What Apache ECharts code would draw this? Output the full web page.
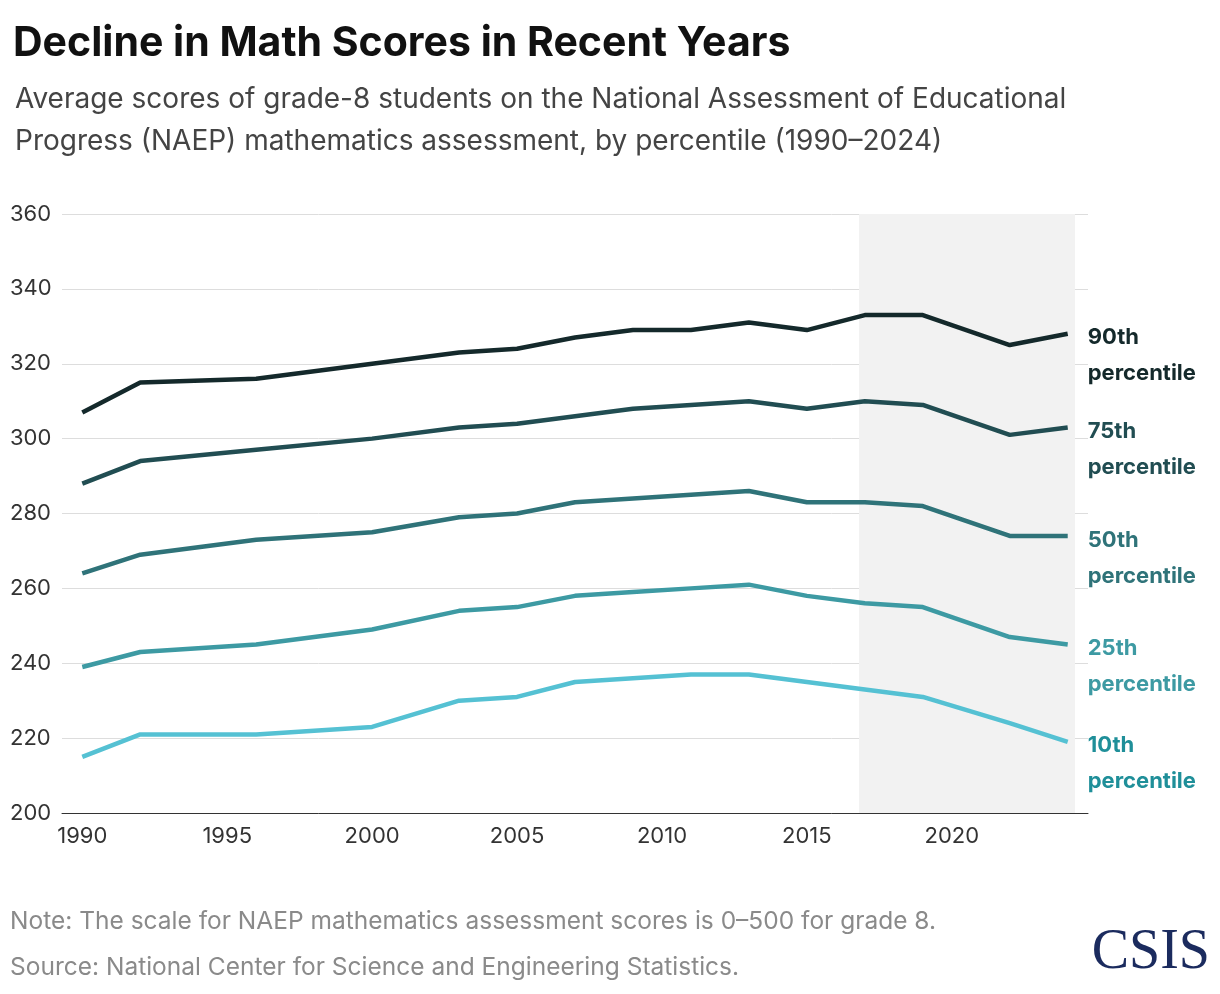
<!DOCTYPE html><html><head><meta charset="utf-8"><script src="https://cdn.jsdelivr.net/npm/echarts@6/dist/echarts.min.js"></script>
<style>body{margin:0}#c{width:1220px;height:994px}</style></head><body><div id="c"></div><script>
const years=[1990,1992,1996,2000,2003,2005,2007,2009,2011,2013,2015,2017,2019,2022,2024];
const p90=[307,315,316,320,323,324,327,329,329,331,329,333,333,325,328];
const p75=[288,294,297,300,303,304,306,308,309,310,308,310,309,301,303];
const p50=[264,269,273,275,279,280,283,284,285,286,283,283,282,274,274];
const p25=[239,243,245,249,254,255,258,259,260,261,258,256,255,247,245];
const p10=[215,221,221,223,230,231,235,236,237,237,235,233,231,224,219];
const xTicks=[1990,1995,2000,2005,2010,2015,2020];
const names=['90th','75th','50th','25th','10th'];
const colors=['#14292b','#214d52','#2f7379','#3d9aa3','#55c1d3'];
const labelColors=['#14292b','#214d52','#2f7379','#3d9aa3','#1f8f99'];
const data=[p90,p75,p50,p25,p10];
const F='Inter, "Noto Sans", sans-serif';
const series=data.map((d,i)=>({name:names[i],type:'line',symbol:'none',data:years.map((y,j)=>[y,d[j]]),
 lineStyle:{width:4.5,color:colors[i]},itemStyle:{color:colors[i]},z:3,
 endLabel:{show:true,formatter:names[i]+'\npercentile',color:labelColors[i],fontFamily:F,fontWeight:'bold',fontSize:22,lineHeight:36,offset:[2,22],distance:18},
 markArea:i===0?{silent:true,itemStyle:{color:'#f2f2f2'},data:[[{xAxis:2016.8},{xAxis:2024.25}]]}:undefined}));
const chart=echarts.init(document.getElementById('c'));
chart.setOption({animation:false,
 title:[{text:'Decline in Math Scores in Recent Years',left:8,top:18,textStyle:{fontFamily:F,fontWeight:'bold',fontSize:41,color:'#111'}},
 {text:'Average scores of grade-8 students on the National Assessment of Educational\nProgress (NAEP) mathematics assessment, by percentile (1990–2024)',left:10,top:74,textStyle:{fontFamily:F,fontWeight:'normal',fontSize:28,lineHeight:42,color:'#444'}}],
 graphic:[{type:'text',left:10,top:909,style:{text:'Note: The scale for NAEP mathematics assessment scores is 0–500 for grade 8.',font:'24.5px '+F,fill:'#8a8a8a'}},
 {type:'text',left:10,top:955,style:{text:'Source: National Center for Science and Engineering Statistics.',font:'24.5px '+F,fill:'#8a8a8a'}},
 {type:'text',right:10,top:925,style:{text:'CSIS',font:'56px "Liberation Serif", serif',fill:'#1b2b5e'}}],
 grid:{left:62,right:132,top:214,bottom:181},
 xAxis:{type:'value',min:1989.3,max:2024.7,axisLine:{show:true,lineStyle:{color:'#333',width:1}},axisTick:{show:false},splitLine:{show:false},
  axisLabel:{customValues:xTicks,formatter:v=>String(v),fontFamily:F,fontSize:22,color:'#333',margin:12}},
 yAxis:{type:'value',min:200,max:360,interval:20,axisLine:{show:false},axisTick:{show:false},
  splitLine:{lineStyle:{color:'#ddd',width:1}},axisLabel:{fontFamily:F,fontSize:22,color:'#333',align:'left',margin:52}},
 series});
</script></body></html>
